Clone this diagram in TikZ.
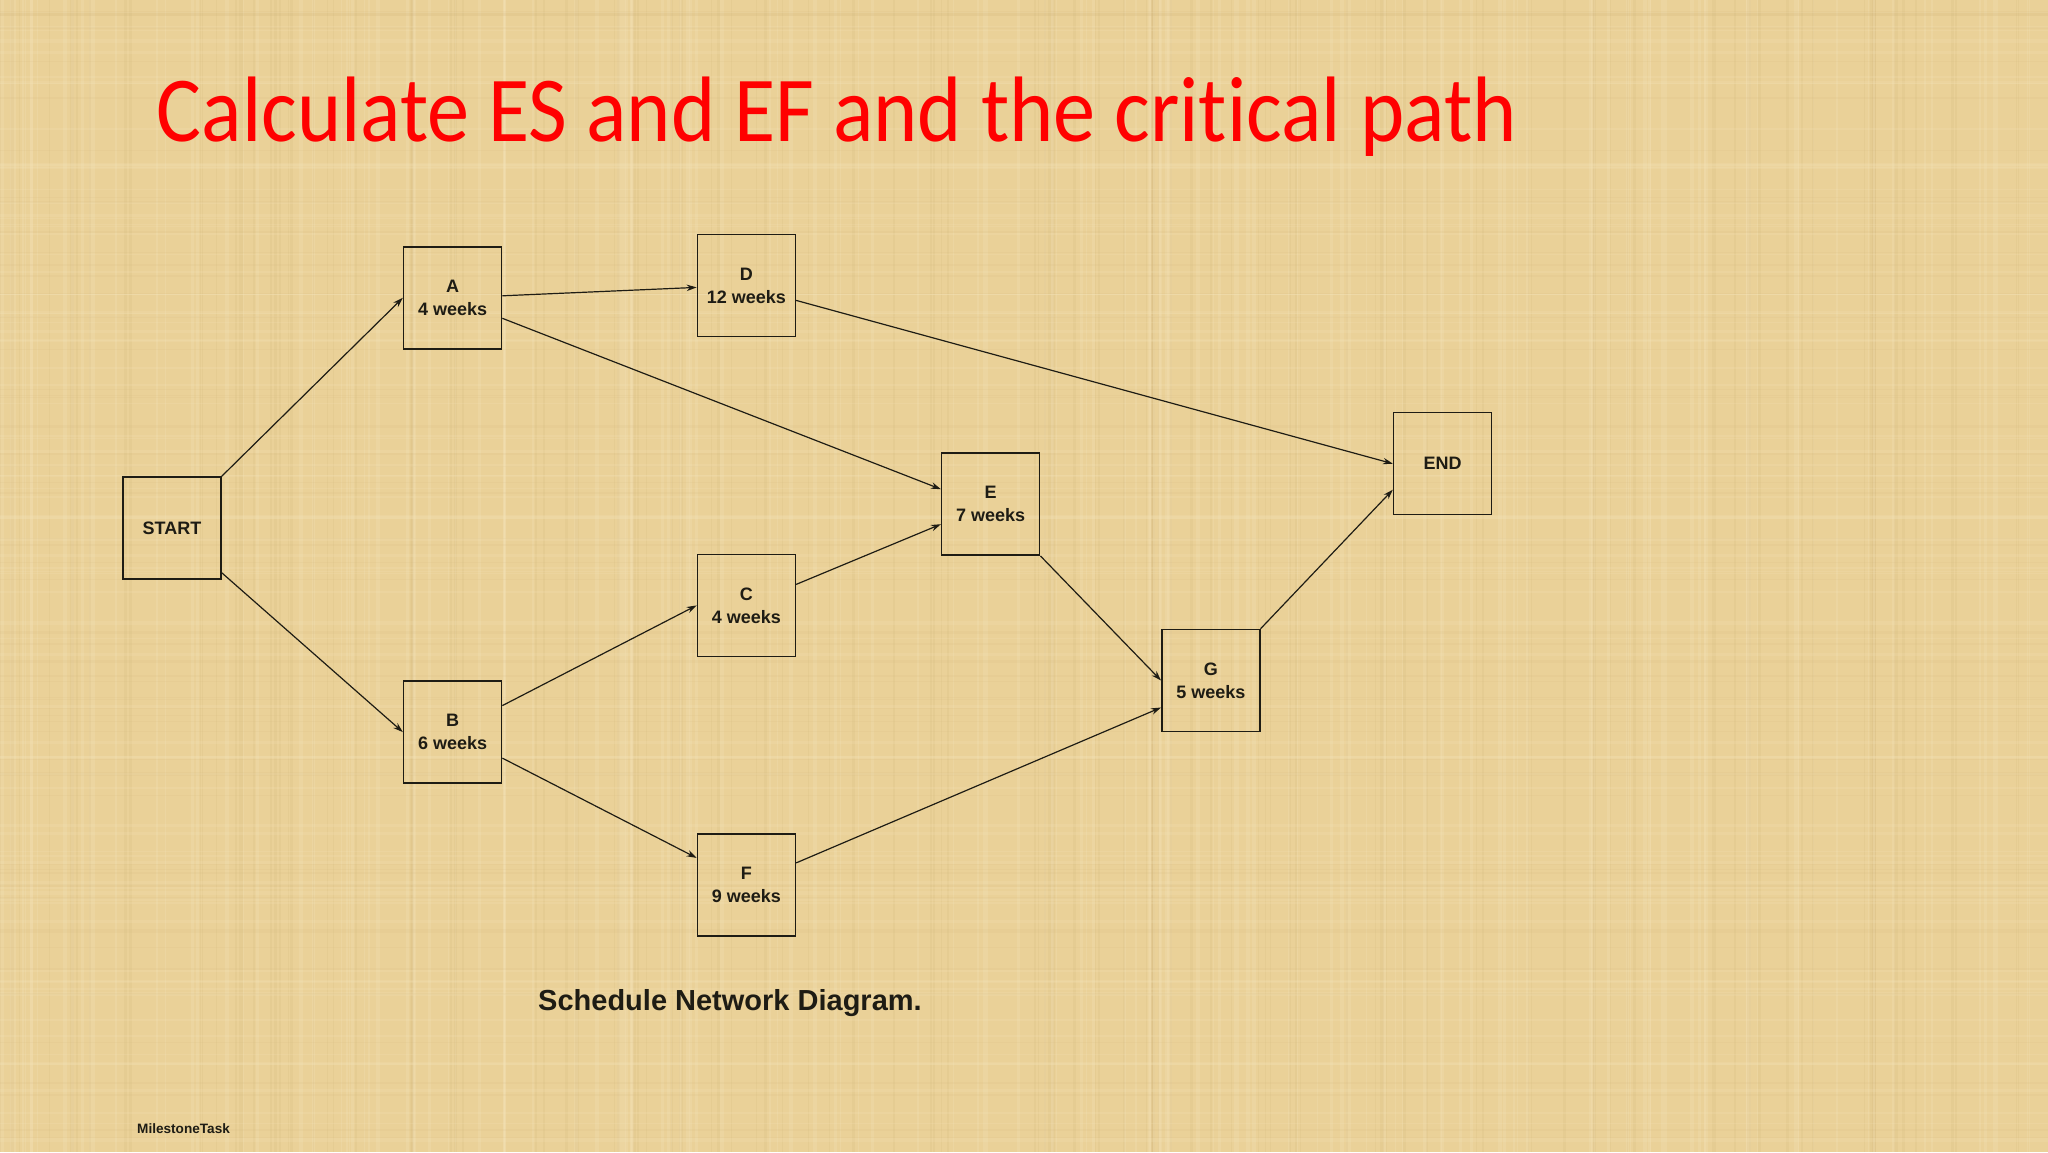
\documentclass[tikz,border=0pt]{standalone}
\usepackage{fontspec}
\setmainfont{Liberation Sans}
\newfontfamily\titlefont[Ligatures=NoCommon]{Carlito}
\usetikzlibrary{arrows.meta}
\definecolor{paper}{RGB}{234,209,152}
\definecolor{paperlight}{RGB}{245,228,185}
\definecolor{paperdark}{RGB}{205,176,118}
\definecolor{ink}{RGB}{30,28,20}
\begin{document}
\begin{tikzpicture}[x=1pt,y=-1pt,
  box/.style={draw=ink, line width=1.5pt, minimum width=98pt, minimum height=102pt,
    inner sep=0pt, align=center, text=ink, font=\fontsize{18}{23}\selectfont\bfseries},
  conn/.style={-{Stealth[length=10pt,width=6.5pt]}, line width=1.2pt, draw=ink},
  plain/.style={inner sep=0pt, anchor=base west, text=ink}]
\fill[paper] (0,0) rectangle (2048,1152);
\useasboundingbox (0,0) rectangle (2048,1152);
% paper texture
\pgfmathsetseed{11}
\foreach \i in {1,...,160}{
  \pgfmathsetmacro\xx{rnd*2048}
  \pgfmathsetmacro\ww{0.5+rnd*4}
  \draw[paperlight, opacity=0.25, line width=\ww pt] (\xx,0) -- (\xx,1152);
}
\foreach \i in {1,...,120}{
  \pgfmathsetmacro\xx{rnd*2048}
  \pgfmathsetmacro\ww{0.5+rnd*3}
  \draw[paperdark, opacity=0.15, line width=\ww pt] (\xx,0) -- (\xx,1152);
}
\foreach \i in {1,...,90}{
  \pgfmathsetmacro\yy{rnd*1152}
  \pgfmathsetmacro\ww{0.5+rnd*3}
  \draw[paperlight, opacity=0.2, line width=\ww pt] (0,\yy) -- (2048,\yy);
}
\foreach \i in {1,...,60}{
  \pgfmathsetmacro\yy{rnd*1152}
  \pgfmathsetmacro\ww{0.5+rnd*2}
  \draw[paperdark, opacity=0.1, line width=\ww pt] (0,\yy) -- (2048,\yy);
}

\node[plain, text=red, font=\titlefont\fontsize{93}{100}\selectfont] (title) at (156.7,141)
  {\scalebox{0.906}[1]{Calculate ES and EF and the critical path}};

\node[box] (start) at (172,528) {START};
\node[box] (a) at (452.6,297.8) {A\\4 weeks};
\node[box] (d) at (746.4,285.4) {D\\12 weeks};
\node[box] (e) at (990.7,504.2) {E\\7 weeks};
\node[box] (fin) at (1442.6,463.7) {END};
\node[box] (c) at (746.4,605.4) {C\\4 weeks};
\node[box] (b) at (452.6,732.1) {B\\6 weeks};
\node[box] (g) at (1210.8,680.5) {G\\5 weeks};
\node[box] (f) at (746.4,884.9) {F\\9 weeks};

\draw[conn] (start.north east) -- (a.west);
\draw[conn] ([yshift=7pt]start.south east) -- (b.west);
\draw[conn] ([yshift=2pt]a.east) -- ([yshift=-2pt]d.west);
\draw[conn] ([yshift=-20.5pt]a.east) -- ([yshift=15pt]e.west);
\draw[conn] ([yshift=21pt]c.east) -- ([yshift=-20pt]e.west);
\draw[conn] ([yshift=-15pt]d.east) -- (fin.west);
\draw[conn] ([yshift=26.5pt]b.east) -- (c.west);
\draw[conn] ([yshift=-26pt]b.east) -- ([yshift=27pt]f.west);
\draw[conn] (e.south east) -- (g.west);
\draw[conn] ([yshift=22pt]f.east) -- ([yshift=-27pt]g.west);
\draw[conn] (g.north east) -- ([yshift=-26pt]fin.west);

\node[plain, font=\fontsize{29}{34}\selectfont\bfseries] (caption) at (538,1010)
  {Schedule Network Diagram.};
\node[plain, font=\fontsize{13.6}{16}\selectfont\bfseries] (ms) at (137,1133)
  {MilestoneTask};
\end{tikzpicture}
\end{document}
